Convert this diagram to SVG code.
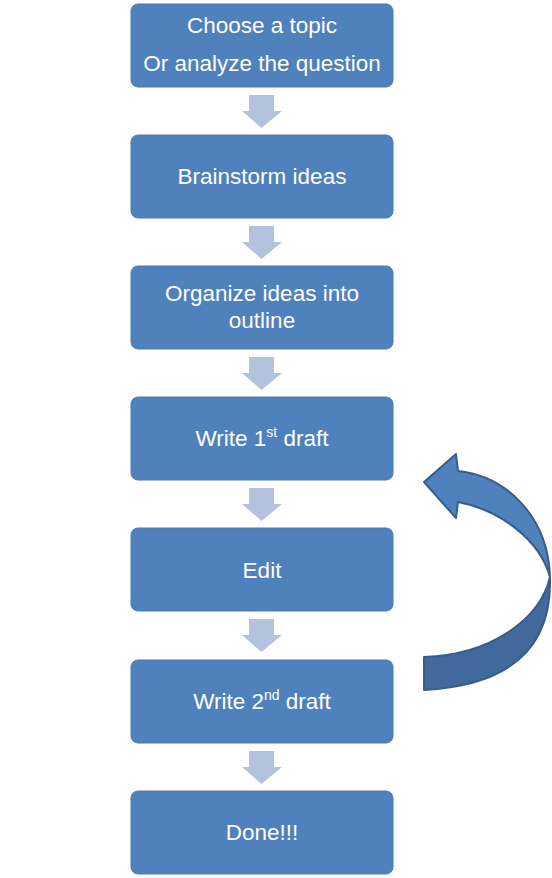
<svg xmlns="http://www.w3.org/2000/svg" width="552" height="878" viewBox="0 0 552 878">
<style>
.box{fill:#4F81BD;stroke:#4A7AB4;stroke-width:1}
.t{font-family:"Liberation Sans",Arial,sans-serif;font-size:22.5px;fill:#FFFFFF;text-anchor:middle}
.sup{font-size:14px}
.arr{fill:#B3C3DE}
</style>
<rect width="552" height="878" fill="#FFFFFF"/>
<g id="connectors">
<path class="arr" d="M249,95 H274 V111 H282 L261.5,128 L242,111 H249 Z"/>
<path class="arr" d="M249,226 H274 V242 H282 L261.5,259 L242,242 H249 Z"/>
<path class="arr" d="M249,357 H274 V373 H282 L261.5,390 L242,373 H249 Z"/>
<path class="arr" d="M249,488 H274 V504 H282 L261.5,521 L242,504 H249 Z"/>
<path class="arr" d="M249,619 H274 V635 H282 L261.5,652 L242,635 H249 Z"/>
<path class="arr" d="M249,751 H274 V767 H282 L261.5,784 L242,767 H249 Z"/>
<g id="loop">
<path d="M550,577 C552,640 520,685 424,690 L424,657 C490,655 540,620 550,577 Z" fill="#41699B" stroke="#385D8A" stroke-width="2" stroke-linejoin="round"/>
<path d="M458,471 C505,476 548,515 550,577 C540,540 500,510 458,502 L456,518 L424,482 L456,454 Z" fill="#4F81BD" stroke="#385D8A" stroke-width="2" stroke-linejoin="round"/>
</g>
</g>
<g id="n1"><rect class="box" x="131" y="4" width="262" height="83" rx="7"/>
<text class="t" x="262" y="33">Choose a topic</text>
<text class="t" x="262" y="71">Or analyze the question</text></g>
<g id="n2"><rect class="box" x="131" y="135" width="262" height="83" rx="7"/>
<text class="t" x="262" y="184">Brainstorm ideas</text></g>
<g id="n3"><rect class="box" x="131" y="266" width="262" height="83" rx="7"/>
<text class="t" x="262" y="301">Organize ideas into</text>
<text class="t" x="262" y="328">outline</text></g>
<g id="n4"><rect class="box" x="131" y="397" width="262" height="83" rx="7"/>
<text class="t" x="262" y="446">Write 1<tspan class="sup" dy="-9">st</tspan><tspan dy="9"> draft</tspan></text></g>
<g id="n5"><rect class="box" x="131" y="528" width="262" height="83" rx="7"/>
<text class="t" x="262" y="578">Edit</text></g>
<g id="n6"><rect class="box" x="131" y="660" width="262" height="83" rx="7"/>
<text class="t" x="262" y="709">Write 2<tspan class="sup" dy="-9">nd</tspan><tspan dy="9"> draft</tspan></text></g>
<g id="n7"><rect class="box" x="131" y="791" width="262" height="83" rx="7"/>
<text class="t" x="262" y="840">Done!!!</text></g>
</svg>
